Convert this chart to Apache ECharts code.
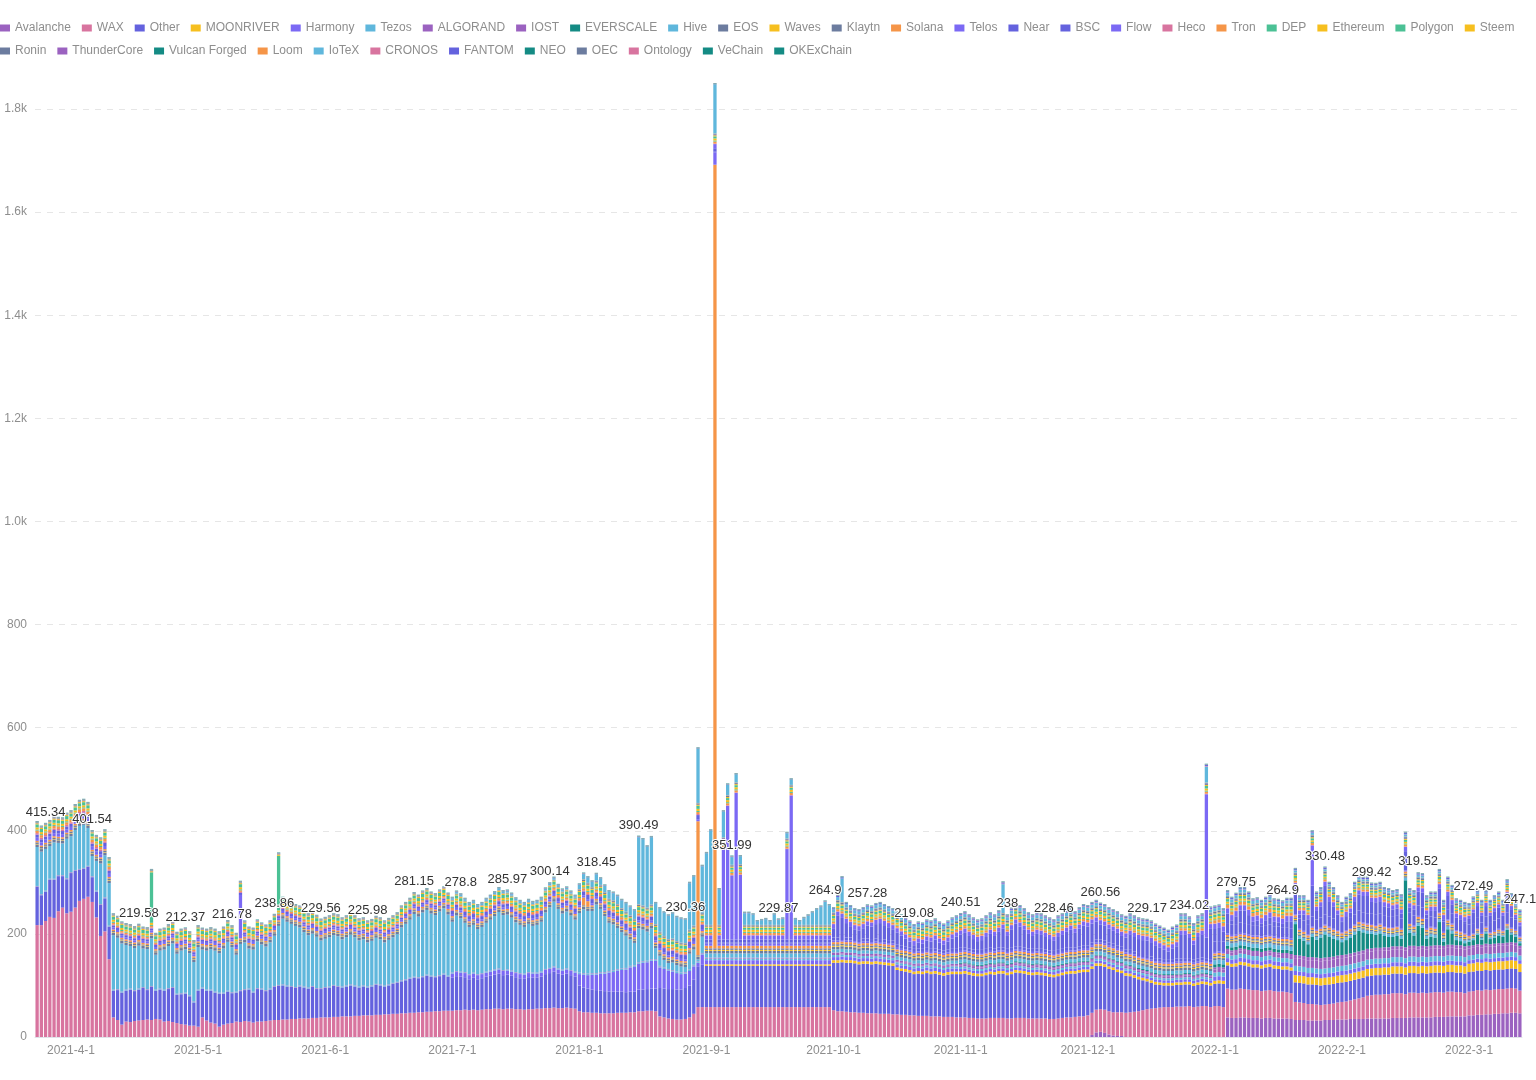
<!DOCTYPE html>
<html><head><meta charset="utf-8">
<script src="https://cdn.jsdelivr.net/npm/echarts@6/dist/echarts.min.js"></script>
<style>html,body{margin:0;padding:0;background:#fff}#c{width:1536px;height:1080px}</style>
</head><body><div id="c"></div>
<script>
// ---- axis ticks ----
const N_DAYS = 351;              // 2021-3-24 .. 2022-3-13
const FIRST_TICK = 8, TICK_STEP = 30;
const monthTicks = ['2021-4-1','2021-5-1','2021-6-1','2021-7-1','2021-8-1','2021-9-1','2021-10-1','2021-11-1','2021-12-1','2022-1-1','2022-2-1','2022-3-1'];
// days whose stacked total is annotated in the picture
const labeledDays = [2,13,24,35,46,56,67,78,89,100,111,121,132,142,153,164,175,186,196,207,218,229,240,251,262,272,283,294,304,315,326,339,350];
const seriesNames = ['Avalanche','WAX','Other','MOONRIVER','Harmony','Tezos','ALGORAND','IOST','EVERSCALE','Hive','EOS','Waves','Klaytn','Solana','Telos','Near','BSC','Flow','Heco','Tron','DEP','Ethereum','Polygon','Steem','Ronin','ThunderCore','Vulcan Forged','Loom','IoTeX','CRONOS','FANTOM','NEO','OEC','Ontology','VeChain','OKExChain'];
const PURPLE='#9b62c0',PINK='#d8749f',BLUE='#6462de',YELLOW='#f6bf1f',VIOLET='#7b69f4',LBLUE='#5fb7dc',TEAL='#148b84',SLATE='#6c7c9f',ORANGE='#f59548',GREEN='#4bc195';
const seriesColors = [PURPLE,PINK,BLUE,YELLOW,VIOLET,LBLUE,PURPLE,PURPLE,TEAL,LBLUE,SLATE,YELLOW,SLATE,ORANGE,VIOLET,BLUE,BLUE,VIOLET,PINK,ORANGE,GREEN,YELLOW,GREEN,YELLOW,SLATE,PURPLE,TEAL,ORANGE,LBLUE,PINK,BLUE,TEAL,SLATE,PINK,TEAL,TEAL];

// values, written with a run-length shorthand "value*count"
const R = s => s.split(',').flatMap(t => { const p = t.split('*'); return Array(p[1] ? +p[1] : 1).fill(+p[0]); });

const avalanche = R("0*249,4,9,10,8,5,3,2,2,0*24,38,37,37,38,38,37,37,37,36,37,37,36,36,36,36,35,33*3,32*4,33*3,34*3,35*4,36*6,37*4,38*6,39*3,40*5,42,42,43,43,44,44,45,45,46,46,47,47,46");
const wax = R("217,217,225,233,231,244,251,240,243,251,264,268,272,262,232,196,205,151," +
 "38,33,24,30,29,31,32,33,34,33,35,34,30,31,29,27,25,24,22,22,20,38,32,28,26,20,24,26,27,30,29,31,30,28,30," +
 "30,31,32,33,33,34,34,35,35,36,36,36,37,37,38,38,38,39,39,40,40,40,41,41,42,42,42,43,43,44,44,45,45,46,46,47,47,48,48,49,49,50,50,51,51," +
 "51,52,52,53,52,53,52,53,54,54,55,55,54,55,55,54,54,53,54,54,55,55,56,56,57,56,56,57,56,55," +
 "50,48,48,47,47,46,46,46,46,47,47,47,48,48,50,50,51,51,50,40,38,36,35,34,34,35,38,45,58,58," +
 "58*30," +
 "52,50,50,49,48,48,47,47,46,46,46,45,45,45,44,44,43,43,42,42,41,41,41,40,40,40,39,39,39,38," +
 "38,38,37,37,36,36,36,37,37,37,37,36,36,37,37,37,36,36,36,36,36,35,35,36,37,38,38,39,40,40," +
 "42,43,44,44,45,45,45,46,46,47,48,49,50,52,54,55,56,57,58,58,58,59,59,59,60,58,59,60,60,58," +
 "60,60,58,56,55,55,56,55,55,54,54,53,53,54,53,52,52,51,50," +
 "35,34,33,32,32,31,30,30,31,32,33,34,35,36,38,40,42,44,45,46,46,47,47,48,48,48,46,48,48,47,48,47,48,48,48,47,48,48,47,47,45," +
 "46,47,48,47,48,47,47,48,47,48,48,47,44");
const other = R("74,58,57,72,74,68,61,66,75,71,60,58,58,48,50,60,64,63," +
 "52,58,62,60,63,58,60,62,57,64,55,58,60,62,66,55,58,60,57,45,70,56,58,62,60,64,60,62,58,56," +
 "60,60,62,58,63,62,58,60,64,66,66,64,62,60,62,60,58,60,56,55,57,58,60,58,56,58,60,57,55,56," +
 "54,56,58,57,54,56,58,60,62,64,66,68,66,68,70,68,66,68,70,66," +
 "64,66,65,63,60,62,60,61,63,65,66,68,66,66,64,62,60,60,62,61,60,62,66,68,70,67,65,66,64,62," +
 "50,48,46,45,44,44,43,42,42,41,41,40,40,40,42,42,42,43,44,55,56,57,58,58,58,60,62,66,78,82," +
 "80*30," +
 "92,94,95,95,96,95,94,95,96,95,96,96,95,94,94,86,85,84,83,80,82,81,83,82,83,81,80,82,83,84," +
 "84,85,84,82,82,82,84,85,84,86,86,84,86,88,87,86,85,84,85,84,83,82,81,82,83,84,85,84,85,86," +
 "84,85,85,84,83,82,82,78,76,72,70,66,62,58,54,50,46,44,42,42,42,42,42,43,42,41,42,43,42,42," +
 "43,44,45,45,44,45,46,46,45,44,44,44,45,45,44,44,43,44,44," +
 "38*53,36");
const moonriver = R("0*158,3*30,5*90,6*19,14*41,16*13");
const harmony = R("0*98,8*30,22,25,26,29,30,33,34,37,38,41,42,44,47,48,50,52,52,54,54,40,38,36,34,32,30,28,28,26,8,20,8*30,6*30,5*60,8*60,7*13");
const tezos = R("1*128,2*30,3*30,4*90,8*19,10*41,9*13");
const algorand = R("0*188,2*30,3*60,6*19,15*41,14*13");
const iost = R("1*158,2*30,3*90,4*19,6*41,5*13");
const everscale = R("0*218,2*60,6*19," +
 "60,33,30,25,40,35,40,45,40,35,30,25,28,30,35,40,35,30,28,25,28,22,20,18,20,15,130,25,20,40,35,15,18,15,45,8,30,22,10,8,6," +
 "8,10,18,10,20,10,12,15,12,25,15,12,5");
const hive = R("75.5,82.5,80.84,63.5,70.5,62.5,61.5,76.5,69.5,77.5,83.5,83.5,73.5,39.04,57.5,78.5,81.5,82.5," +
 "105.5,99.5,93.5,86.5,82.5,81.5,83.08,74.5,77.5,92.5,67.5,73.5,77.5,81.5,84.5,77.5,82.5,83.87,81.5,76.5," +
 "82.5,73.5,75.5,78.5,79.5,76.5,85.5,94.5,87.28,71.5,89.5,90.5,77.5,81.5,90.5,85.5,84.5,89.5,97.36,114.5," +
 "127.5,123.5,120.5,118.5,112.5,105.5,101.5,101.5,99.5,92.06,93.5,95.5,96.5,96.5,91.5,93.5,96.5,93.5,89.5,89.5," +
 "85.48,86.5,89.5,87.5,83.5,86.5,88.5,92.5,102.5,107.5,112.5,121.65,117.5,123.5,125.5,120.5,118.5,123.5,126.5,118.5," +
 "98.5,107.5,103.3,95.5,91.5,92.5,87.5,89.5,94.5,98.5,103.5,109.5,106.5,106.47,102.5,96.5,93.5,90.5,93.5,90.5,92.5,96.5,109.5,117.64,125.5,115.5,108.5,110.5,105.5,100.5," +
 "115.5,123.5,121.5,120.5,132.95,122.5,108.5,93.5,89.5,79.5,70.5,62.5,51.5,43.5,65.99,61.5,56.5,59.5,21.5,19.5,14.5,11.5,14.5,12.5,11.5,9.86,30.5,29.5,3.5,31.5," +
 "8*30,6*90,8*19,5*41,3*13");
const eos = R("5*278,4*19,3*41,2*13");
const waves = R("1*158,2*180,1*13");
const klaytn = R("3*18,2*140,3*180,2*13");
const solana = R("3*129,15,11,3*25,260,3,5*2,1520,5*27,4*90,4*19,4*41,3*13");
const telos = R("6*18,4*30,84,4*49,4*30,4*30,4*2,24,4*27,3*90,3*19,2*41,2*13");
const near = R("0*158,2*30,6*90,20*73");
const bsc = R("6*18,4*80,6*30,8*30,6*30," +
 "18,42,37,28,22,17,17,20,25.28,24,28,31,28,25,22,24,20,15,11,7.08,11,10,14,14,17,13,11,15,20,24," +
 "25.51,28,24,20,17,19,23,27,24,30,36,25,36,44,39,34,28,25,28,27,24,22,19.46,25,27,31,34,28,34,39," +
 "37,37,35,29.56,29,27,25,25,21,23,29,28,27,27,28.17,28,25,22,19,15,21,24,46,45,39.02,29,42,44,40,60," +
 "24.5,25.5,19.5,18.5,8.5,15.25,23.5,24.5,17.5,6.5,8.5,5.5,9.5,13.5,8.5,8.5,6.4,11.5,13.5," +
 "32.5,7.5,11.5,9.5,59.5,16.5,21.5,54.98,29.5,23.5,10.5,1.5,7.5,10.5,25.5,31.5,31.5,33.5,22.92,24.5,23.5,18.5,18.5,14.5,14.5,9.5,17.5,10.5,11.5,27.02,29.5,7.5,10.5,12.5,26.5,4.5,25.5,17.5,4.5,3.5,3.5," +
 "11,20.49,23,13,20,12,18,21,8,34,16,3,1.1");
const flow = R("0*158,8*4,177.5,259.5,124.49,284.5,125.5,8*10,175.5,279.5,8*9,8*88,278,8,10*19,8*4,78,8*36,6*13");
const heco = R("3*18,2*140,1*193");
const tron = R("5*18,3*80,4*180,6*19,4*41,3*13");
const dep = R("2*351");
const ethereum = R("4*297,3*54");
const polygon = R("6*27,98,6*29,106,6*100,4*30,5*109,4*41,3*13");
const steem = R("2*351");
const ronin = R("0*128,2*60,3*150,2*13");
const thundercore = R("0.5*351");
const vulcan = R("0.5*351");
const loom = R("0.5*351");
const iotex = R("0*98,3*30," +
 "8,10,10,10,12,12,12,14,14,15,15,16,16,16,130,128,118,130,40,45,45,45,48,46,46,45,90,95,105,90," +
 "138.5,182.5,95,68.5,50,20,15,15,15,22.5,22.5,19.5,6.5,8.5,10.5,6.5,19.5,9.37,11.5,10,10,10.5,6.5,12.5,17.5,23.5,29.5,34.5,44.4,37.5," +
 "6*2,46,6*27,6*10,56,6*19,6*28,31,6,6*19,4*41,3*13");
const cronos = R("0*218,1*60,0.5*60,0*13");
const fantom = R("0.5*188,2*163");
const neo = R("0.5*351");
const oec = R("0.5*351");
const ontology = R("0.5*351");
const vechain = R("0.5*351");
const okexchain = R("0.5*351");

const seriesData = [avalanche,wax,other,moonriver,harmony,tezos,algorand,iost,everscale,hive,eos,waves,klaytn,solana,telos,near,bsc,flow,heco,tron,dep,ethereum,polygon,steem,ronin,thundercore,vulcan,loom,iotex,cronos,fantom,neo,oec,ontology,vechain,okexchain];
seriesData.forEach((a,k)=>{ if(a.length!==N_DAYS) console.error(seriesNames[k], a.length); });

const categories = Array.from({length: N_DAYS}, (_, i) => String(i));
const totals = categories.map((_, i) => seriesData.reduce((s, a) => s + (a[i] || 0), 0));

const series = seriesNames.map((name, k) => ({
  name, type: 'bar', stack: 'all', data: seriesData[k],
  itemStyle: { color: seriesColors[k] }, barCategoryGap: '22%', emphasis: { disabled: true }
}));
// zero-height cap on the annotated days, carrying the total as its label
series.push({
  name: 'total', type: 'bar', stack: 'all',
  data: categories.map((_, i) => labeledDays.includes(i) ? 0 : '-'),
  itemStyle: { color: 'transparent' }, silent: true, z: 5,
  label: { show: true, position: 'top', distance: 4, color: '#333', fontSize: 13,
    textBorderColor: '#fff', textBorderWidth: 2,
    formatter: p => String(+totals[p.dataIndex].toFixed(2)) }
});

const chart = echarts.init(document.getElementById('c'), null, { renderer: 'canvas' });
chart.setOption({
  animation: false,
  legend: { data: seriesNames, left: 0, top: 22, padding: 0, icon: 'rect', itemWidth: 10, itemHeight: 7, itemGap: 11,
    textStyle: { color: '#8e8e8e', fontSize: 12 } },
  grid: { left: 35, right: 14, top: 83, bottom: 43 },
  xAxis: { type: 'category', data: categories,
    axisLine: { lineStyle: { color: '#e0e3ea' } }, axisTick: { show: false },
    axisLabel: { color: '#8e8e8e', fontSize: 12,
      interval: i => i >= FIRST_TICK && (i - FIRST_TICK) % TICK_STEP === 0,
      formatter: (v, i) => monthTicks[(i - FIRST_TICK) / TICK_STEP] || '' } },
  yAxis: { type: 'value', min: 0, max: 'dataMax', interval: 200,
    axisLabel: { color: '#8e8e8e', fontSize: 12, showMaxLabel: false,
      formatter: v => v >= 1000 ? (v / 1000).toFixed(1) + 'k' : String(v) },
    splitLine: { showMaxLine: false, lineStyle: { type: [6, 6], color: '#e6e6e6' } } },
  series
});
</script></body></html>
